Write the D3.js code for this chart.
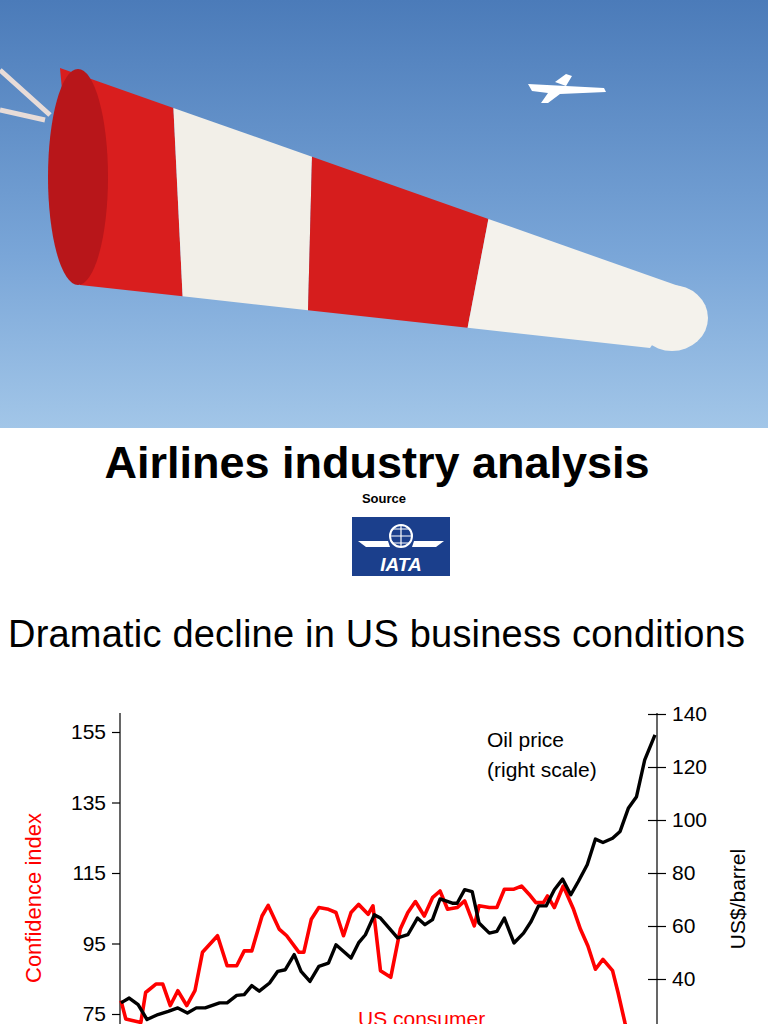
<!DOCTYPE html>
<html><head><meta charset="utf-8">
<script src="https://cdn.jsdelivr.net/npm/d3@7"></script>
<style>body{margin:0;background:#fff}svg{display:block}</style>
</head><body>
<div id="chart"></div>
<script>
// confidence index (left scale), months since start
const confMonths = [0,0.7,2.9,3.6,5.1,6.1,7.2,8.3,9.6,10.8,11.9,14.1,15.5,16.9,18.0,19.1,20.6,21.5,23.1,24.2,26.0,26.7,27.8,28.9,30.3,31.4,32.5,33.6,34.7,36.1,36.8,37.9,39.4,40.8,41.9,43.0,44.3,45.5,46.6,47.7,49.1,50.2,51.6,52.3,53.8,54.9,56.0,57.4,58.5,59.6,60.6,61.7,62.3,63.3,64.6,66.1,67.1,68.2,69.3,70.4,71.8,72.6,73.6,75.0];
const confValues = [78.8,73.6,72.6,81.1,83.5,83.5,77.4,81.6,77.4,81.6,92.5,97.2,88.7,88.7,92.9,92.9,102.8,105.8,99.1,97.2,92.5,92.5,101.9,105.2,104.7,103.8,97.2,103.8,106.1,103.3,105.7,87.3,85.4,99.1,103.8,106.9,102.8,108.0,109.9,104.7,105.2,107.1,100.0,105.7,105.2,105.2,110.4,110.4,111.3,109.0,106.6,106.6,108.5,105.2,111.3,104.7,99.1,94.3,87.7,90.5,87.3,81.1,72.6,62];
// oil price (right scale)
const oilMonths = [0,1.2,2.5,3.8,5.4,6.9,8.3,9.7,11.0,12.3,14.4,15.5,16.9,18.0,19.1,20.2,21.7,22.9,24.0,25.3,26.3,27.6,28.9,30.3,31.4,33.6,34.7,35.7,37.0,37.9,40.4,41.9,43.3,44.4,45.5,46.6,48.4,49.1,50.2,51.3,52.3,53.8,54.9,56.0,57.4,58.8,59.9,61.0,62.1,63.3,64.5,65.7,66.8,68.1,69.3,70.4,71.8,72.9,74.1,75.3,76.5,78.0];
const oilValues = [31.0,32.8,30.3,24.7,26.6,27.8,29.1,27.2,29.1,29.1,31.0,31.0,33.8,34.1,37.5,35.4,38.5,42.9,43.5,49.2,42.9,39.1,44.8,46.0,52.9,47.9,53.6,56.7,64.2,63.0,55.5,56.7,63.0,60.5,62.4,70.2,68.6,68.6,73.7,73.0,61.1,57.3,58.0,63.0,53.6,57.3,61.7,67.6,67.6,73.7,77.7,71.8,76.8,83.1,92.8,91.5,93.1,95.7,104.4,108.8,122.7,132.1];
const leftTicks = [75,95,115,135,155];
const rightTicks = [20,40,60,80,100,120,140];

const W = 768, H = 1024;
const svg = d3.select("#chart").append("svg").attr("width", W).attr("height", H)
    .style("font-family", "Liberation Sans, Arial, sans-serif");

// photo area: sky
const defs = svg.append("defs");
const sky = defs.append("linearGradient").attr("id", "sky").attr("x1", 0).attr("y1", 0).attr("x2", 0).attr("y2", 1);
sky.append("stop").attr("offset", 0).attr("stop-color", "#4b7bb9");
sky.append("stop").attr("offset", 0.6).attr("stop-color", "#7aa6d8");
sky.append("stop").attr("offset", 1).attr("stop-color", "#a2c6e8");
svg.append("rect").attr("width", W).attr("height", 428).attr("fill", "url(#sky)");

// windsock
const topA = [60, 68], topB = [690, 290], botA = [80, 285], botB = [650, 348];
const pt = (a, b, t) => [a[0] + (b[0] - a[0]) * t, a[1] + (b[1] - a[1]) * t];
const bands = [[0, 0.18, "#d91e1e"], [0.18, 0.4, "#f2efe8"], [0.4, 0.68, "#d61d1d"], [0.68, 1, "#f4f2ec"]];
bands.forEach(([t0, t1, c]) => {
    const p = [pt(topA, topB, t0), pt(topA, topB, t1), pt(botA, botB, t1), pt(botA, botB, t0)];
    svg.append("path").attr("d", "M" + p.join("L") + "Z").attr("fill", c);
});
svg.append("ellipse").attr("cx", 672).attr("cy", 318).attr("rx", 36).attr("ry", 33).attr("fill", "#f4f2ec");
svg.append("ellipse").attr("cx", 78).attr("cy", 177).attr("rx", 30).attr("ry", 108).attr("fill", "#b8161a");
svg.append("path").attr("d", "M0,70 L50,115 M0,110 L45,120").attr("stroke", "#e8dcd8").attr("stroke-width", 5);
// plane
svg.append("path").attr("d", "M528,84 L604,88 L606,92 L560,94 L548,103 L541,103 L548,93 L532,91 Z M555,82 L566,74 L572,76 L566,86 Z")
    .attr("fill", "#fff");

// titles
svg.append("text").attr("x", 377).attr("y", 478).attr("text-anchor", "middle")
    .style("font-size", "45px").style("font-weight", "bold").text("Airlines industry analysis");
svg.append("text").attr("x", 384).attr("y", 503).attr("text-anchor", "middle")
    .style("font-size", "13px").style("font-weight", "bold").text("Source");

// IATA logo
const logo = svg.append("g").attr("transform", "translate(352,517)");
logo.append("rect").attr("width", 98).attr("height", 59).attr("fill", "#1b3f8c");
logo.append("circle").attr("cx", 49).attr("cy", 19).attr("r", 11).attr("fill", "none").attr("stroke", "#fff").attr("stroke-width", 2);
logo.append("path").attr("d", "M38,19H60M49,8V30M41,12H57M41,26H57").attr("stroke", "#fff").attr("stroke-width", 1.2);
logo.append("path").attr("d", "M6,24 L36,24 L38,30 L14,30 Z M92,24 L62,24 L60,30 L84,30 Z").attr("fill", "#fff");
logo.append("text").attr("x", 49).attr("y", 54).attr("text-anchor", "middle").attr("fill", "#fff")
    .style("font-size", "19px").style("font-weight", "bold").style("font-style", "italic").text("IATA");

svg.append("text").attr("x", 8).attr("y", 647).attr("textLength", 737)
    .style("font-size", "38px").text("Dramatic decline in US business conditions");

// chart
const x = d3.scaleLinear().domain([0, 78]).range([121, 655]);
const yL = d3.scaleLinear().domain([75, 155]).range([1014, 732]);
const yR = d3.scaleLinear().domain([40, 140]).range([979, 714]);

const axL = svg.append("g").attr("transform", "translate(120,0)")
    .call(d3.axisLeft(yL).tickValues(leftTicks).tickSize(8).tickPadding(6));
axL.select(".domain").attr("d", "M0,713V1024");
const axR = svg.append("g").attr("transform", "translate(657,0)")
    .call(d3.axisRight(yR).tickValues(rightTicks).tickSize(9).tickPadding(6));
axR.select(".domain").attr("d", "M0,713V1024");
axR.selectAll(".tick line").attr("x1", -9);
svg.selectAll(".tick text").style("font-size", "21px");
svg.selectAll(".domain, .tick line").attr("stroke", "#000").attr("stroke-width", 1.2);

const clip = defs.append("clipPath").attr("id", "plot");
clip.append("rect").attr("x", 110).attr("y", 700).attr("width", 560).attr("height", 324);
const plot = svg.append("g").attr("clip-path", "url(#plot)");

plot.append("path").datum(d3.zip(confMonths, confValues))
    .attr("d", d3.line().x(d => x(d[0])).y(d => yL(d[1])))
    .attr("fill", "none").attr("stroke", "#ff0000").attr("stroke-width", 3.6).attr("stroke-linejoin", "round");
plot.append("path").datum(d3.zip(oilMonths, oilValues))
    .attr("d", d3.line().x(d => x(d[0])).y(d => yR(d[1])))
    .attr("fill", "none").attr("stroke", "#000").attr("stroke-width", 3.4).attr("stroke-linejoin", "round");

const lab = svg.append("g").style("font-size", "21px");
lab.append("text").attr("x", 487).attr("y", 747).text("Oil price");
lab.append("text").attr("x", 487).attr("y", 777).text("(right scale)");
lab.append("text").attr("x", 358).attr("y", 1026).attr("fill", "#ff0000").text("US consumer");
svg.append("text").attr("transform", "translate(41,898) rotate(-90)").attr("text-anchor", "middle")
    .attr("fill", "#ff0000").style("font-size", "22px").text("Confidence index");
svg.append("text").attr("transform", "translate(745,899) rotate(-90)").attr("text-anchor", "middle")
    .style("font-size", "21px").text("US$/barrel");
</script>
</body></html>
